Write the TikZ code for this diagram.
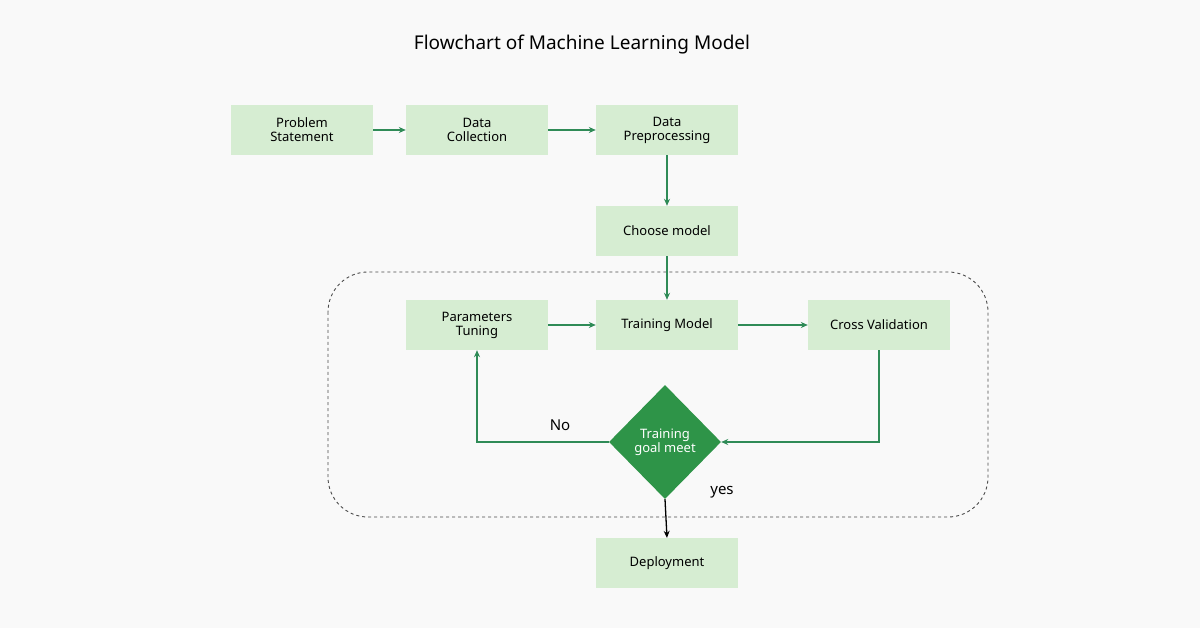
\documentclass[tikz,border=0pt]{standalone}
\usepackage{fontspec}
\setmainfont{Noto Sans}
\usetikzlibrary{shapes.geometric,arrows.meta}
\definecolor{boxg}{HTML}{D6EDD2}
\definecolor{arrg}{HTML}{2F8B57}
\definecolor{diag}{HTML}{2E9448}
\definecolor{bg}{HTML}{F9F9F9}
\begin{document}
\begin{tikzpicture}[x=1pt,y=-1pt,
 box/.style={fill=boxg,draw=none,minimum width=142pt,minimum height=50pt,align=center,font=\fontsize{13}{14}\selectfont,inner sep=0pt},
 arr/.style={draw=arrg,line width=1.3pt,-{Stealth[length=7pt,width=6pt]}}]
\fill[bg] (0,0) rectangle (1200,628);
\useasboundingbox (0,0) rectangle (1200,628);
\node[font=\bfseries\fontsize{19}{22}\selectfont] (t) at (582,45) {Flowchart of Machine Learning Model};
\draw[dashed,line width=0.9pt,rounded corners=40pt,draw=black!70] (328,272) rectangle (988,517);
\node[box] (ps) at (302,130) {Problem\\Statement};
\node[box] (dc) at (477,130) {Data\\Collection};
\node[box] (dp) at (667,130) {Data\\Preprocessing};
\node[box] (cm) at (667,231) {Choose model};
\node[box] (pt) at (477,325) {Parameters\\Tuning};
\node[box] (tm) at (667,325) {Training Model};
\node[box] (cv) at (879,325) {Cross Validation};
\node[box] (de) at (667,563) {Deployment};
\node[diamond,fill=diag,minimum width=112pt,minimum height=114pt,inner sep=0pt,text=white,align=center,font=\fontsize{13}{14}\selectfont] (d) at (665,442) {Training\\goal meet};
\draw[arr] (ps) -- (dc);
\draw[arr] (dc) -- (dp);
\draw[arr] (dp) -- (cm);
\draw[arr] (cm) -- (tm);
\draw[arr] (pt) -- (tm);
\draw[arr] (tm) -- (cv);
\draw[arr] (cv.south) -- (cv.south |- d.east) -- (d.east);
\draw[arr] (d.west) -- (pt.south |- d.west) -- (pt.south);
\draw[line width=1.3pt,-{Stealth[length=7pt,width=6pt]}] (d.south) -- (de.north);
\node[font=\fontsize{15}{16}\selectfont] (no) at (560,425) {No};
\node[font=\fontsize{15}{16}\selectfont] (ye) at (722,492) {yes};
\end{tikzpicture}
\end{document}
